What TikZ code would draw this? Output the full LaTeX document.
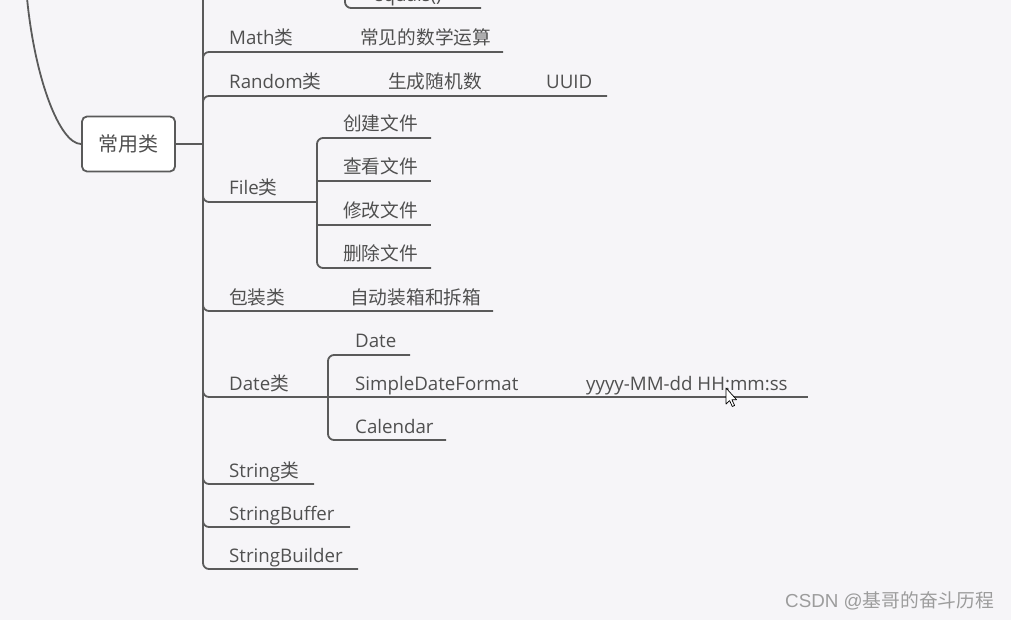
\documentclass[tikz,border=0pt]{standalone}
\usepackage{fontspec}
\setmainfont{Open Sans}
\newfontfamily\zh{Noto Sans CJK SC}
\usetikzlibrary{calc}
\definecolor{bg}{HTML}{F6F5F8}
\definecolor{ln}{HTML}{5A5A5A}
\definecolor{tx}{HTML}{505050}
\definecolor{wm}{HTML}{9C9C9C}
\begin{document}
\begin{tikzpicture}[x=1pt,y=-1pt,
  lbl/.style={inner sep=0pt,anchor=base west,text=tx,font=\fontsize{18.7}{20}\selectfont},
  branch/.style={draw=ln,line width=1.8pt,rounded corners=6pt},
  rootbox/.style={draw=ln,line width=1.8pt,fill=white,rounded corners=5pt,minimum width=93pt,minimum height=55pt,inner sep=0pt,text=tx,font=\zh\fontsize{20}{22}\selectfont},
  wmark/.style={inner sep=0pt,anchor=base west,text=wm,font=\zh\fontsize{18.8}{20}\selectfont}]
\fill[bg] (0,0) rectangle (1011,620);
\useasboundingbox (0,0) rectangle (1011,620);
\clip (0,0) rectangle (1011,620);

% root
\node[rootbox] (root) at (128.5,144) {常用类};
\coordinate (up) at (27,-2);
\draw[ln,line width=1.8pt] (up) .. controls (35,80) and (60,144) .. (root.west);

% trunk
\coordinate (T) at (203,144);
\draw[ln,line width=1.8pt] (root.east) -- (T);

% labels
\node[lbl] (eq) at (373,1.5) {equals()};
\node[lbl] (math) at (229,45) {Math\zh 类};
\node[lbl] (mathc) at (360,45) {\zh 常见的数学运算};
\node[lbl] (rand) at (229,89) {Random\zh 类};
\node[lbl] (randc) at (388,89) {\zh 生成随机数};
\node[lbl] (uuid) at (546,89) {UUID};
\node[lbl] (file) at (229,195) {File\zh 类};
\node[lbl] (f1) at (343,131) {\zh 创建文件};
\node[lbl] (f2) at (343,174) {\zh 查看文件};
\node[lbl] (f3) at (343,218) {\zh 修改文件};
\node[lbl] (f4) at (343,261) {\zh 删除文件};
\node[lbl] (wrap) at (229,304) {\zh 包装类};
\node[lbl] (wrapc) at (350,304) {\zh 自动装箱和拆箱};
\node[lbl] (date) at (229,390) {Date\zh 类};
\node[lbl] (d1) at (355,347) {Date};
\node[lbl] (d2) at (355,390) {SimpleDateFormat};
\node[lbl] (d2c) at (586,390) {yyyy-MM-dd HH:mm:ss};
\node[lbl] (d3) at (355,433) {Calendar};
\node[lbl] (str) at (229,477) {String\zh 类};
\node[lbl] (sbuf) at (229,520) {StringBuffer};
\node[lbl] (sbld) at (229,562) {StringBuilder};

% line end coordinates
\coordinate (eqE) at (481,8);
\coordinate (mathE) at (503,52);
\coordinate (randE) at (607,96);
\coordinate (fileJ) at (317,202);
\coordinate (f1E) at (431,138);
\coordinate (f2E) at (431,181);
\coordinate (f3E) at (431,225);
\coordinate (f4E) at (431,268);
\coordinate (wrapE) at (493,311);
\coordinate (dateJ) at (328,397);
\coordinate (d1E) at (410,355);
\coordinate (d2E) at (808,397);
\coordinate (d3E) at (446,440);
\coordinate (strE) at (314,484);
\coordinate (sbufE) at (350,527);
\coordinate (sbldE) at (358,569);

% trunk with last branch
\draw[branch] (T |- 0,-10) |- (sbldE);
\draw[branch] ($(T |- mathE)+(0,12)$) |- (mathE);
\draw[branch] ($(T |- randE)+(0,12)$) |- (randE);
\draw[branch] ($(T |- fileJ)+(0,-12)$) |- (fileJ);
\draw[branch] ($(T |- wrapE)+(0,-12)$) |- (wrapE);
\draw[branch] ($(T |- dateJ)+(0,-12)$) |- (dateJ);
\draw[branch] ($(T |- strE)+(0,-12)$) |- (strE);
\draw[branch] ($(T |- sbufE)+(0,-12)$) |- (sbufE);

% top partial branch
\draw[branch] (345,-12) |- (eqE);

% file sub-branches
\draw[branch] (f1E) -| (fileJ) |- (f4E);
\draw[branch] (fileJ |- f2E) -- (f2E);
\draw[branch] (fileJ |- f3E) -- (f3E);

% date sub-branches
\draw[branch] (d1E) -| (dateJ) |- (d3E);
\draw[branch] (dateJ) -- (d2E);

% cursor
\draw[black,line width=0.7pt,fill=white,line join=round]
  (726,388) -- (726,404) -- (729.6,400.6) -- (732.3,406.5) -- (734.6,405.5) -- (731.9,399.7) -- (736.6,399.7) -- cycle;

% watermark
\node[wmark] (wmk) at (785,607.5) {\fontspec{Liberation Sans}CSDN @\zh 基哥的奋斗历程};
\end{tikzpicture}
\end{document}
